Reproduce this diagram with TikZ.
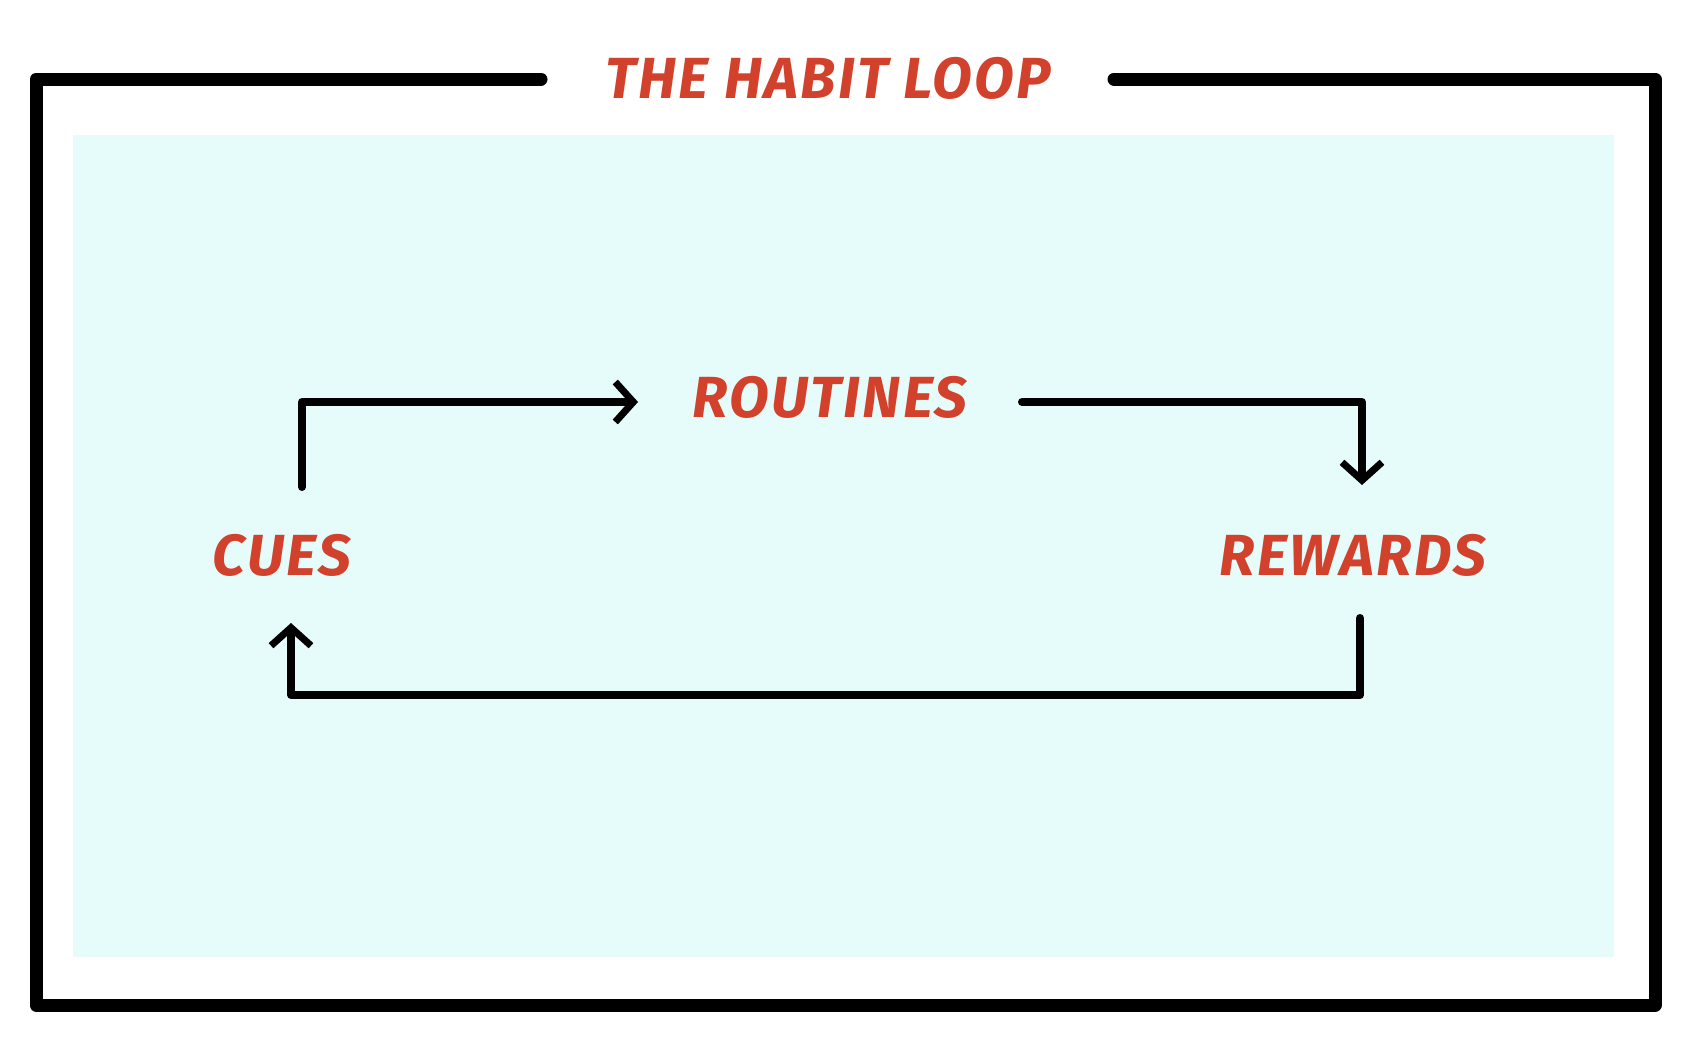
\documentclass[tikz,border=0pt]{standalone}
\usepackage{fontspec}
\setmainfont{Fira Sans}[LetterSpace=4]
\usetikzlibrary{arrows.meta}
\definecolor{hred}{HTML}{D1412B}
\definecolor{hfill}{HTML}{E6FCFA}
\begin{document}
\begin{tikzpicture}[x=1pt,y=-1pt,
  lbl/.style={text=hred,font=\fontsize{58}{58}\selectfont\bfseries\itshape,inner sep=0pt},
  arr/.style={line width=8pt,line cap=round,line join=round,-{Straight Barb[length=18pt,width=40pt,line width=7pt]}},
  frame/.style={line width=13pt,line cap=round,line join=round}]
\useasboundingbox (0,0) rectangle (1682,1044);
\fill[white] (0,0) rectangle (1682,1044);
\fill[hfill] (73,135) rectangle (1614,957);
\draw[frame] (541,79) -- (36,79) -- (36,1005) -- (1655,1005) -- (1655,79) -- (1114,79);
\node[lbl] (title) at (828,78) {THE HABIT LOOP};
\node[lbl] (routines) at (830,397) {ROUTINES};
\node[lbl] (cues) at (282,555) {CUES};
\node[lbl] (rewards) at (1353,555) {REWARDS};
\coordinate (a1) at (302,487); \coordinate (a2) at (302,402); \coordinate (a3) at (638,402);
\coordinate (b1) at (1022,402); \coordinate (b2) at (1362,402); \coordinate (b3) at (1362,485);
\coordinate (c1) at (1360,618); \coordinate (c2) at (1360,695); \coordinate (c3) at (291,695); \coordinate (c4) at (291,623);
\draw[arr] (a1) -- (a2) -- (a3);
\draw[arr] (b1) -- (b2) -- (b3);
\draw[arr] (c1) -- (c2) -- (c3) -- (c4);
\end{tikzpicture}
\end{document}
